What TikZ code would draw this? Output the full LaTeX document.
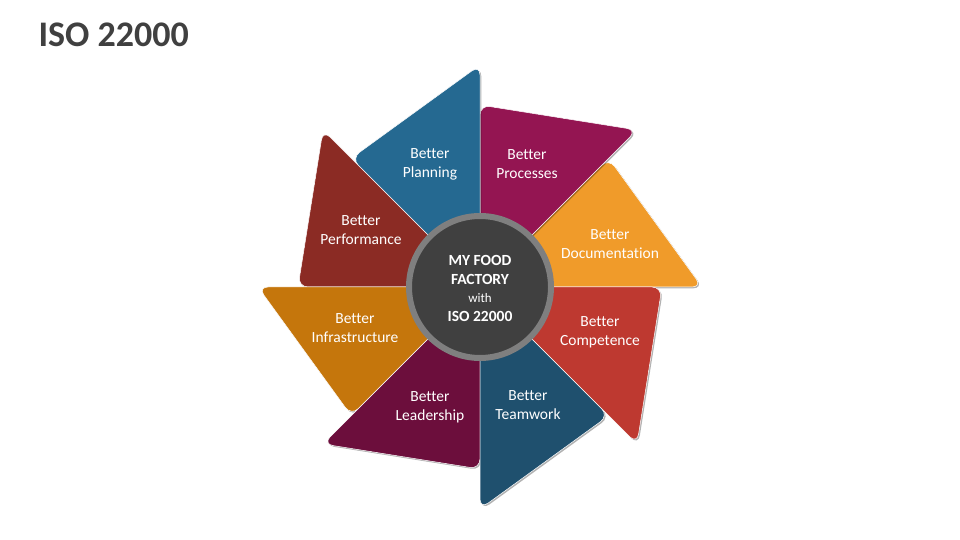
\documentclass[tikz,border=0pt]{standalone}
\usepackage{fontspec}
\setmainfont{Carlito}[Ligatures=NoCommon]
\usetikzlibrary{shadows}
\definecolor{cPlan}{RGB}{37,105,145}
\definecolor{cProc}{RGB}{148,21,82}
\definecolor{cDoc}{RGB}{240,155,42}
\definecolor{cComp}{RGB}{190,57,48}
\definecolor{cTeam}{RGB}{31,80,110}
\definecolor{cLead}{RGB}{108,14,60}
\definecolor{cInfr}{RGB}{197,118,12}
\definecolor{cPerf}{RGB}{139,43,36}
\definecolor{cDark}{RGB}{64,64,64}
\definecolor{cRing}{RGB}{127,127,127}
\tikzset{
  bladeshape/.style={fill=#1, draw=white, line width=0.5pt, rounded corners=10pt,
    drop shadow={shadow xshift=1.3pt, shadow yshift=-1.3pt, fill=black, opacity=0.3}},
  bladetext/.style={text=white, align=center, font=\fontsize{15.5}{19}\selectfont},
  hubtext/.style={text=white, align=center, font=\fontsize{15.5}{18.5}\selectfont\bfseries}
}
\begin{document}
\begin{tikzpicture}[x=1pt,y=1pt]
\useasboundingbox (0,0) rectangle (960,540);
\node[anchor=west, text=cDark, font=\fontsize{36}{40}\selectfont\bfseries] (title) at (35,505) {ISO 22000};
\coordinate (O) at (480,253);
\begin{scope}[shift={(O)}]
\foreach \a/\c in {0/cDoc,45/cProc,90/cPlan,135/cPerf,180/cInfr,225/cLead,270/cTeam,315/cComp}{
  \path[bladeshape=\c] (0,0) -- (\a:222) -- (\a+45:182) -- cycle;
}
\end{scope}
\node[bladetext] (plan) at (430,376) {Better\\Planning};
\node[bladetext] (proc) at (527,376) {Better\\Processes};
\node[bladetext] (doc) at (610,296) {Better\\Documentation};
\node[bladetext] (comp) at (600,208) {Better\\Competence};
\node[bladetext] (team) at (528,135) {Better\\Teamwork};
\node[bladetext] (lead) at (430,133) {Better\\Leadership};
\node[bladetext] (infr) at (355,212) {Better\\Infrastructure};
\node[bladetext] (perf) at (361,310) {Better\\Performance};
\node[circle, fill=cDark, draw=cRing, line width=6pt, minimum size=142pt] (hub) at (O) {};
\node[hubtext] (hubtxt) at (480,251.5) {MY FOOD\\FACTORY\\{\mdseries\fontsize{13}{18.5}\selectfont with}\\ISO 22000};
\end{tikzpicture}
\end{document}
